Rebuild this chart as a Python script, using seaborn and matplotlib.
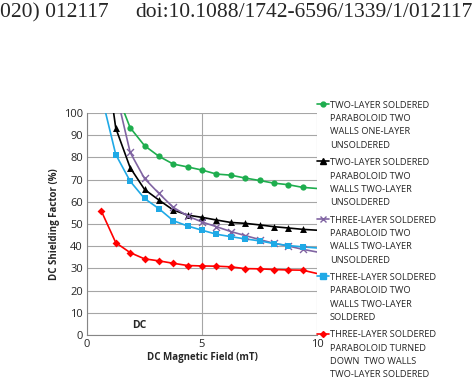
import matplotlib
matplotlib.use('Agg')
import matplotlib.pyplot as plt
from matplotlib.lines import Line2D
import seaborn as sns
import pandas as pd

# Field steps (mT)
x_steps = [0.625, 1.25, 1.875, 2.5, 3.125, 3.75, 4.375, 5.0, 5.625,
           6.25, 6.875, 7.5, 8.125, 8.75, 9.375, 10.0]

# Shielding factor (%), None = no point
green = [None, 110, 93.4, 85.3, 80.5, 77.0, 75.7, 74.3, 72.5, 72.0,
         70.7, 69.6, 68.4, 67.7, 66.5, 66.0]
black = [140, 93.2, 75.4, 65.6, 60.8, 56.3, 54.0, 53.0, 51.8, 50.7,
         50.3, 49.6, 48.8, 48.2, 47.6, 47.2]
purple = [None, 110, 82.3, 70.5, 63.8, 57.5, 53.6, 50.9, 48.8, 46.6,
          44.8, 43.0, 41.3, 40.1, 38.6, 37.4]
blue = [108, 81.3, 69.3, 61.5, 56.9, 51.5, 49.1, 47.2, 45.4, 44.3,
        43.3, 42.4, 41.2, 40.3, 39.7, 39.2]
red = [55.8, 41.6, 37.1, 34.3, 33.4, 32.3, 31.3, 31.1, 31.0, 30.7,
       29.9, 29.8, 29.5, 29.3, 29.2, 27.7]

labels = [
    'TWO-LAYER SOLDERED\nPARABOLOID TWO\nWALLS ONE-LAYER\nUNSOLDERED',
    'TWO-LAYER SOLDERED\nPARABOLOID TWO\nWALLS TWO-LAYER\nUNSOLDERED',
    'THREE-LAYER SOLDERED\nPARABOLOID TWO\nWALLS TWO-LAYER\nUNSOLDERED',
    'THREE-LAYER SOLDERED\nPARABOLOID TWO\nWALLS TWO-LAYER\nSOLDERED',
    'THREE-LAYER SOLDERED\nPARABOLOID TURNED\nDOWN  TWO WALLS\nTWO-LAYER SOLDERED',
]
colors = ['#1EAD4E', '#000000', '#8064A2', '#1FA9E6', '#FF0000']
markers = ['o', '^', 'x', 's', 'D']
msizes = [4.5, 5, 5, 5, 4]

rows = []
for lab, ys in zip(labels, [green, black, purple, blue, red]):
    for xv, yv in zip(x_steps, ys):
        if yv is not None:
            rows.append({'field': xv, 'sf': yv, 'series': lab})
df = pd.DataFrame(rows)

sns.set_style('white')
plt.rcParams['font.family'] = ['Open Sans', 'DejaVu Sans']

fig = plt.figure(figsize=(4.74, 3.79), dpi=100)
ax = fig.add_axes([87 / 474, 1 - 335 / 379, 230 / 474, 222 / 379])

pal = dict(zip(labels, colors))
sns.lineplot(data=df, x='field', y='sf', hue='series', palette=pal,
             linewidth=1.2, legend=False, ax=ax, sort=True)
for lab, col, mk, ms in zip(labels, colors, markers, msizes):
    sub = df[(df['series'] == lab) & (df['field'] < 10)]
    sns.scatterplot(data=sub, x='field', y='sf', color=col, marker=mk,
                    s=ms ** 2, linewidth=1.0 if mk == 'x' else 0,
                    edgecolor=col, ax=ax, zorder=3, legend=False)

ax.set_xlim(0, 10)
ax.set_ylim(0, 100)
ax.set_xticks([0, 5, 10])
ax.set_yticks(range(0, 101, 10))
ax.grid(True, color='#A6A6A6', linewidth=0.8)
for side in ['top', 'right']:
    ax.spines[side].set_visible(False)
for side in ['left', 'bottom']:
    ax.spines[side].set_color('#868686')
    ax.spines[side].set_linewidth(0.8)
ax.tick_params(length=0, labelsize=8, pad=3)
ax.set_xlabel('DC Magnetic Field (mT)', fontsize=7, fontweight='bold',
              labelpad=1)
ax.set_ylabel('DC Shielding Factor (%)', fontsize=7, fontweight='bold',
              labelpad=3)
ax.text(2.28, 4.5, 'DC', fontsize=7.5, fontweight='bold',
        ha='center', va='center')

handles = [Line2D([], [], color=c, marker=m, markersize=ms - 1,
                  markeredgecolor=c, linewidth=1.2)
           for c, m, ms in zip(colors, markers, msizes)]
leg = ax.legend(handles, labels, loc='upper left',
                bbox_to_anchor=(1.0, 1.055), frameon=False, fontsize=6.7,
                handlelength=1.3, handletextpad=0.1, labelspacing=0.9,
                borderaxespad=0, borderpad=0)
for t in leg.get_texts():
    t.set_linespacing(1.62)
# put each marker at the first text line
for vp in leg._legend_handle_box.get_children():
    for hp in vp.get_children():
        hp.align = 'top'

fig.text(0, 1 - 17 / 379, '020) 012117', fontsize=15.5,
         family='Liberation Serif', va='baseline')
fig.text(135 / 474, 1 - 17 / 379, 'doi:10.1088/1742-6596/1339/1/012117',
         fontsize=15.5, family='Liberation Serif', va='baseline')

fig.savefig('out.png', dpi=100)
